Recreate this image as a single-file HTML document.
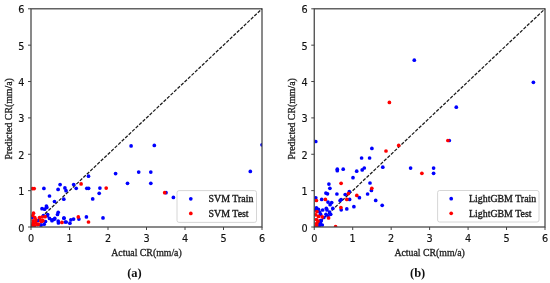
<!DOCTYPE html>
<html><head><meta charset="utf-8"><style>
html,body{margin:0;padding:0;background:#fff;}
body{width:550px;height:283px;overflow:hidden;}
svg{display:block;}
.tk{font-family:"DejaVu Sans", "Liberation Sans", sans-serif;font-size:9.7px;fill:#111;stroke:#111;stroke-width:0.15px;}
.lb{font-family:"Liberation Serif", "DejaVu Serif", serif;font-size:9.8px;fill:#222;stroke:#222;stroke-width:0.3px;}
.lg{font-family:"Liberation Serif", "DejaVu Serif", serif;font-size:9.9px;fill:#1a1a1a;stroke:#1a1a1a;stroke-width:0.35px;}
.pl{font-family:"Liberation Serif", "DejaVu Serif", serif;font-size:12.5px;font-weight:bold;fill:#111;}
</style></head><body>
<svg width="550" height="283" viewBox="0 0 550 283">
<rect width="550" height="283" fill="#fff"/>
<clipPath id="c1"><rect x="31" y="8.8" width="231" height="218.2"/></clipPath>
<line x1="31" y1="227.0" x2="262" y2="8.8" stroke="#1a1a1a" stroke-width="1.25" stroke-dasharray="3.35 1.45"/>
<g clip-path="url(#c1)"><circle cx="154.3" cy="145.4" r="1.85" fill="#0000ff"/><circle cx="138.7" cy="172.1" r="1.85" fill="#0000ff"/><circle cx="150.8" cy="172.1" r="1.85" fill="#0000ff"/><circle cx="150.8" cy="183.3" r="1.85" fill="#0000ff"/><circle cx="166" cy="192.7" r="1.85" fill="#0000ff"/><circle cx="173.4" cy="197.4" r="1.85" fill="#0000ff"/><circle cx="250.3" cy="171.4" r="1.85" fill="#0000ff"/><circle cx="262" cy="144.8" r="1.85" fill="#0000ff"/><circle cx="131.1" cy="145.9" r="1.85" fill="#0000ff"/><circle cx="88.5" cy="176.2" r="1.85" fill="#0000ff"/><circle cx="115.6" cy="173.6" r="1.85" fill="#0000ff"/><circle cx="60.1" cy="184.6" r="1.85" fill="#0000ff"/><circle cx="58.1" cy="189.4" r="1.85" fill="#0000ff"/><circle cx="64.9" cy="187.9" r="1.85" fill="#0000ff"/><circle cx="66" cy="190.7" r="1.85" fill="#0000ff"/><circle cx="73.7" cy="184.5" r="1.85" fill="#0000ff"/><circle cx="76.2" cy="188.3" r="1.85" fill="#0000ff"/><circle cx="86.8" cy="188.3" r="1.85" fill="#0000ff"/><circle cx="88.6" cy="188.3" r="1.85" fill="#0000ff"/><circle cx="63.8" cy="199.2" r="1.85" fill="#0000ff"/><circle cx="92.7" cy="198.9" r="1.85" fill="#0000ff"/><circle cx="54.5" cy="201.5" r="1.85" fill="#0000ff"/><circle cx="127.5" cy="183.3" r="1.85" fill="#0000ff"/><circle cx="99.9" cy="188.1" r="1.85" fill="#0000ff"/><circle cx="99.2" cy="193.3" r="1.85" fill="#0000ff"/><circle cx="103" cy="217.9" r="1.85" fill="#0000ff"/><circle cx="64" cy="218.2" r="1.85" fill="#0000ff"/><circle cx="66.2" cy="222" r="1.85" fill="#0000ff"/><circle cx="69.9" cy="223.2" r="1.85" fill="#0000ff"/><circle cx="70.9" cy="219.8" r="1.85" fill="#0000ff"/><circle cx="73.6" cy="219.1" r="1.85" fill="#0000ff"/><circle cx="78.9" cy="219.1" r="1.85" fill="#0000ff"/><circle cx="86.4" cy="216.9" r="1.85" fill="#0000ff"/><circle cx="43.9" cy="188.4" r="1.85" fill="#0000ff"/><circle cx="49.5" cy="196" r="1.85" fill="#0000ff"/><circle cx="31.9" cy="217.6" r="1.85" fill="#0000ff"/><circle cx="37.6" cy="220.5" r="1.85" fill="#0000ff"/><circle cx="40.8" cy="225" r="1.85" fill="#0000ff"/><circle cx="43.4" cy="215.7" r="1.85" fill="#0000ff"/><circle cx="42" cy="208.7" r="1.85" fill="#0000ff"/><circle cx="46.4" cy="206.1" r="1.85" fill="#0000ff"/><circle cx="46.8" cy="207.4" r="1.85" fill="#0000ff"/><circle cx="44.6" cy="209.2" r="1.85" fill="#0000ff"/><circle cx="47.3" cy="215.8" r="1.85" fill="#0000ff"/><circle cx="47.7" cy="214.5" r="1.85" fill="#0000ff"/><circle cx="49.5" cy="218.4" r="1.85" fill="#0000ff"/><circle cx="52.1" cy="219.8" r="1.85" fill="#0000ff"/><circle cx="54.8" cy="218.4" r="1.85" fill="#0000ff"/><circle cx="45.5" cy="221.5" r="1.85" fill="#0000ff"/><circle cx="44.2" cy="224.2" r="1.85" fill="#0000ff"/><circle cx="41.1" cy="225" r="1.85" fill="#0000ff"/><circle cx="58.2" cy="212.3" r="1.85" fill="#0000ff"/><circle cx="57.5" cy="214.5" r="1.85" fill="#0000ff"/><circle cx="52" cy="220.7" r="1.85" fill="#0000ff"/><circle cx="54.2" cy="219.3" r="1.85" fill="#0000ff"/><circle cx="58.2" cy="221.1" r="1.85" fill="#0000ff"/><circle cx="58.4" cy="222.9" r="1.85" fill="#0000ff"/><circle cx="63.9" cy="218" r="1.85" fill="#0000ff"/><circle cx="65.2" cy="222" r="1.85" fill="#0000ff"/><circle cx="32.6" cy="188.6" r="1.85" fill="#ff0000"/><circle cx="34.2" cy="188.6" r="1.85" fill="#ff0000"/><circle cx="81.1" cy="183.9" r="1.85" fill="#ff0000"/><circle cx="106.2" cy="188.1" r="1.85" fill="#ff0000"/><circle cx="164.7" cy="192.7" r="1.85" fill="#ff0000"/><circle cx="61.9" cy="222.4" r="1.85" fill="#ff0000"/><circle cx="78.3" cy="216.9" r="1.85" fill="#ff0000"/><circle cx="88.5" cy="222" r="1.85" fill="#ff0000"/><circle cx="33.5" cy="213.2" r="1.85" fill="#ff0000"/><circle cx="34.8" cy="217.6" r="1.85" fill="#ff0000"/><circle cx="39.5" cy="217.6" r="1.85" fill="#ff0000"/><circle cx="42" cy="217" r="1.85" fill="#ff0000"/><circle cx="45.1" cy="216.7" r="1.85" fill="#ff0000"/><circle cx="33.2" cy="220.8" r="1.85" fill="#ff0000"/><circle cx="35.7" cy="222.7" r="1.85" fill="#ff0000"/><circle cx="41.5" cy="221.5" r="1.85" fill="#ff0000"/><circle cx="40.6" cy="220.7" r="1.85" fill="#ff0000"/><circle cx="42.9" cy="220.7" r="1.85" fill="#ff0000"/><circle cx="32.5" cy="225" r="1.85" fill="#ff0000"/><circle cx="37.6" cy="224.6" r="1.85" fill="#ff0000"/><circle cx="38.4" cy="224.2" r="1.85" fill="#ff0000"/><circle cx="32.8" cy="215.5" r="1.85" fill="#ff0000"/><circle cx="34.5" cy="225.5" r="1.85" fill="#ff0000"/><circle cx="33" cy="223" r="1.85" fill="#ff0000"/><circle cx="36" cy="219.8" r="1.85" fill="#ff0000"/></g>
<rect x="31" y="8.8" width="231" height="218.2" fill="none" stroke="#444" stroke-width="1.25"/>
<line x1="31.00" y1="227.0" x2="31.00" y2="230.0" stroke="#444" stroke-width="1"/>
<text x="31.00" y="242.3" text-anchor="middle" class="tk">0</text>
<line x1="28" y1="227.00" x2="31" y2="227.00" stroke="#444" stroke-width="1"/>
<text x="24.5" y="231.50" text-anchor="end" class="tk">0</text>
<line x1="69.50" y1="227.0" x2="69.50" y2="230.0" stroke="#444" stroke-width="1"/>
<text x="69.50" y="242.3" text-anchor="middle" class="tk">1</text>
<line x1="28" y1="190.63" x2="31" y2="190.63" stroke="#444" stroke-width="1"/>
<text x="24.5" y="195.13" text-anchor="end" class="tk">1</text>
<line x1="108.00" y1="227.0" x2="108.00" y2="230.0" stroke="#444" stroke-width="1"/>
<text x="108.00" y="242.3" text-anchor="middle" class="tk">2</text>
<line x1="28" y1="154.27" x2="31" y2="154.27" stroke="#444" stroke-width="1"/>
<text x="24.5" y="158.77" text-anchor="end" class="tk">2</text>
<line x1="146.50" y1="227.0" x2="146.50" y2="230.0" stroke="#444" stroke-width="1"/>
<text x="146.50" y="242.3" text-anchor="middle" class="tk">3</text>
<line x1="28" y1="117.90" x2="31" y2="117.90" stroke="#444" stroke-width="1"/>
<text x="24.5" y="122.40" text-anchor="end" class="tk">3</text>
<line x1="185.00" y1="227.0" x2="185.00" y2="230.0" stroke="#444" stroke-width="1"/>
<text x="185.00" y="242.3" text-anchor="middle" class="tk">4</text>
<line x1="28" y1="81.53" x2="31" y2="81.53" stroke="#444" stroke-width="1"/>
<text x="24.5" y="86.03" text-anchor="end" class="tk">4</text>
<line x1="223.50" y1="227.0" x2="223.50" y2="230.0" stroke="#444" stroke-width="1"/>
<text x="223.50" y="242.3" text-anchor="middle" class="tk">5</text>
<line x1="28" y1="45.17" x2="31" y2="45.17" stroke="#444" stroke-width="1"/>
<text x="24.5" y="49.67" text-anchor="end" class="tk">5</text>
<line x1="262.00" y1="227.0" x2="262.00" y2="230.0" stroke="#444" stroke-width="1"/>
<text x="262.00" y="242.3" text-anchor="middle" class="tk">6</text>
<line x1="28" y1="8.80" x2="31" y2="8.80" stroke="#444" stroke-width="1"/>
<text x="24.5" y="13.30" text-anchor="end" class="tk">6</text>
<text x="146.50" y="255.6" text-anchor="middle" class="lb">Actual CR(mm/a)</text>
<text transform="translate(11.8,118.90) rotate(-90)" text-anchor="middle" class="lb">Predicted CR(mm/a)</text>
<rect x="177" y="190.6" width="79.5" height="31.80000000000001" rx="2" fill="#fff" fill-opacity="0.85" stroke="#ccc" stroke-width="0.8"/>
<circle cx="190.8" cy="198.79999999999998" r="1.85" fill="#0000ff"/>
<circle cx="190.8" cy="213.4" r="1.85" fill="#ff0000"/>
<text x="208.60000000000002" y="202.2" class="lg">SVM Train</text>
<text x="208.60000000000002" y="216.6" class="lg">SVM Test</text>
<text x="134.50" y="276.8" text-anchor="middle" class="pl">(a)</text>
<clipPath id="c2"><rect x="314.25" y="8.8" width="230.75" height="218.2"/></clipPath>
<line x1="314.25" y1="227.0" x2="545" y2="8.8" stroke="#1a1a1a" stroke-width="1.25" stroke-dasharray="3.35 1.45"/>
<g clip-path="url(#c2)"><circle cx="414.3" cy="60.2" r="1.85" fill="#0000ff"/><circle cx="533.4" cy="82.3" r="1.85" fill="#0000ff"/><circle cx="456.3" cy="107.2" r="1.85" fill="#0000ff"/><circle cx="449.3" cy="140.5" r="1.85" fill="#0000ff"/><circle cx="410.6" cy="168.1" r="1.85" fill="#0000ff"/><circle cx="433.6" cy="168.1" r="1.85" fill="#0000ff"/><circle cx="433.6" cy="173.3" r="1.85" fill="#0000ff"/><circle cx="371.9" cy="148.4" r="1.85" fill="#0000ff"/><circle cx="361.6" cy="158" r="1.85" fill="#0000ff"/><circle cx="369.6" cy="158" r="1.85" fill="#0000ff"/><circle cx="382.8" cy="167.2" r="1.85" fill="#0000ff"/><circle cx="364.3" cy="168" r="1.85" fill="#0000ff"/><circle cx="315.8" cy="141.5" r="1.85" fill="#0000ff"/><circle cx="337.3" cy="169.2" r="1.85" fill="#0000ff"/><circle cx="337.3" cy="170.7" r="1.85" fill="#0000ff"/><circle cx="343.2" cy="169.2" r="1.85" fill="#0000ff"/><circle cx="356.7" cy="171.2" r="1.85" fill="#0000ff"/><circle cx="362.2" cy="169.9" r="1.85" fill="#0000ff"/><circle cx="353" cy="177.7" r="1.85" fill="#0000ff"/><circle cx="328.9" cy="184.1" r="1.85" fill="#0000ff"/><circle cx="329.9" cy="188.3" r="1.85" fill="#0000ff"/><circle cx="370" cy="183" r="1.85" fill="#0000ff"/><circle cx="371.4" cy="190.4" r="1.85" fill="#0000ff"/><circle cx="367.6" cy="194" r="1.85" fill="#0000ff"/><circle cx="375.7" cy="200.4" r="1.85" fill="#0000ff"/><circle cx="382.2" cy="205.3" r="1.85" fill="#0000ff"/><circle cx="336.9" cy="194" r="1.85" fill="#0000ff"/><circle cx="345.2" cy="194.5" r="1.85" fill="#0000ff"/><circle cx="349.3" cy="191.7" r="1.85" fill="#0000ff"/><circle cx="359.4" cy="197.7" r="1.85" fill="#0000ff"/><circle cx="341.1" cy="199.5" r="1.85" fill="#0000ff"/><circle cx="340.1" cy="200.5" r="1.85" fill="#0000ff"/><circle cx="349.6" cy="199.4" r="1.85" fill="#0000ff"/><circle cx="341.2" cy="209.8" r="1.85" fill="#0000ff"/><circle cx="346.8" cy="208.9" r="1.85" fill="#0000ff"/><circle cx="353.9" cy="206.7" r="1.85" fill="#0000ff"/><circle cx="325.9" cy="193.1" r="1.85" fill="#0000ff"/><circle cx="327.5" cy="193.8" r="1.85" fill="#0000ff"/><circle cx="315.8" cy="197.8" r="1.85" fill="#0000ff"/><circle cx="321.7" cy="199.4" r="1.85" fill="#0000ff"/><circle cx="328" cy="202.1" r="1.85" fill="#0000ff"/><circle cx="331.7" cy="202.6" r="1.85" fill="#0000ff"/><circle cx="330.1" cy="204.7" r="1.85" fill="#0000ff"/><circle cx="326.3" cy="208.3" r="1.85" fill="#0000ff"/><circle cx="332.8" cy="208.4" r="1.85" fill="#0000ff"/><circle cx="316.4" cy="207.9" r="1.85" fill="#0000ff"/><circle cx="322.7" cy="210" r="1.85" fill="#0000ff"/><circle cx="327" cy="210" r="1.85" fill="#0000ff"/><circle cx="329.6" cy="212.1" r="1.85" fill="#0000ff"/><circle cx="320.6" cy="214.3" r="1.85" fill="#0000ff"/><circle cx="326" cy="214.3" r="1.85" fill="#0000ff"/><circle cx="330.7" cy="214.3" r="1.85" fill="#0000ff"/><circle cx="323.8" cy="217.5" r="1.85" fill="#0000ff"/><circle cx="328" cy="215.9" r="1.85" fill="#0000ff"/><circle cx="320.6" cy="220.6" r="1.85" fill="#0000ff"/><circle cx="315.3" cy="210" r="1.85" fill="#0000ff"/><circle cx="320.4" cy="223.1" r="1.85" fill="#0000ff"/><circle cx="322.3" cy="225" r="1.85" fill="#0000ff"/><circle cx="319.4" cy="225.5" r="1.85" fill="#0000ff"/><circle cx="321.3" cy="220.7" r="1.85" fill="#0000ff"/><circle cx="319.8" cy="212" r="1.85" fill="#0000ff"/><circle cx="318.4" cy="209.3" r="1.85" fill="#0000ff"/><circle cx="389.4" cy="102.4" r="1.85" fill="#ff0000"/><circle cx="447.9" cy="140.5" r="1.85" fill="#ff0000"/><circle cx="421.9" cy="173.3" r="1.85" fill="#ff0000"/><circle cx="386" cy="151" r="1.85" fill="#ff0000"/><circle cx="398.7" cy="145.4" r="1.85" fill="#ff0000"/><circle cx="341.1" cy="183.3" r="1.85" fill="#ff0000"/><circle cx="348.4" cy="193.6" r="1.85" fill="#ff0000"/><circle cx="356.8" cy="195.4" r="1.85" fill="#ff0000"/><circle cx="346.8" cy="199.4" r="1.85" fill="#ff0000"/><circle cx="371.8" cy="188.3" r="1.85" fill="#ff0000"/><circle cx="340.9" cy="207.6" r="1.85" fill="#ff0000"/><circle cx="316.4" cy="200.5" r="1.85" fill="#ff0000"/><circle cx="325.4" cy="199.4" r="1.85" fill="#ff0000"/><circle cx="316.9" cy="211.6" r="1.85" fill="#ff0000"/><circle cx="315.8" cy="214.8" r="1.85" fill="#ff0000"/><circle cx="318.5" cy="216.4" r="1.85" fill="#ff0000"/><circle cx="322.2" cy="216.9" r="1.85" fill="#ff0000"/><circle cx="328.6" cy="218" r="1.85" fill="#ff0000"/><circle cx="316.4" cy="219.6" r="1.85" fill="#ff0000"/><circle cx="318" cy="221.2" r="1.85" fill="#ff0000"/><circle cx="316.6" cy="223.5" r="1.85" fill="#ff0000"/><circle cx="316.6" cy="225.5" r="1.85" fill="#ff0000"/><circle cx="335.6" cy="226.7" r="1.85" fill="#ff0000"/></g>
<rect x="314.25" y="8.8" width="230.75" height="218.2" fill="none" stroke="#444" stroke-width="1.25"/>
<line x1="314.25" y1="227.0" x2="314.25" y2="230.0" stroke="#444" stroke-width="1"/>
<text x="314.25" y="242.3" text-anchor="middle" class="tk">0</text>
<line x1="311.25" y1="227.00" x2="314.25" y2="227.00" stroke="#444" stroke-width="1"/>
<text x="307.75" y="231.50" text-anchor="end" class="tk">0</text>
<line x1="352.71" y1="227.0" x2="352.71" y2="230.0" stroke="#444" stroke-width="1"/>
<text x="352.71" y="242.3" text-anchor="middle" class="tk">1</text>
<line x1="311.25" y1="190.63" x2="314.25" y2="190.63" stroke="#444" stroke-width="1"/>
<text x="307.75" y="195.13" text-anchor="end" class="tk">1</text>
<line x1="391.17" y1="227.0" x2="391.17" y2="230.0" stroke="#444" stroke-width="1"/>
<text x="391.17" y="242.3" text-anchor="middle" class="tk">2</text>
<line x1="311.25" y1="154.27" x2="314.25" y2="154.27" stroke="#444" stroke-width="1"/>
<text x="307.75" y="158.77" text-anchor="end" class="tk">2</text>
<line x1="429.62" y1="227.0" x2="429.62" y2="230.0" stroke="#444" stroke-width="1"/>
<text x="429.62" y="242.3" text-anchor="middle" class="tk">3</text>
<line x1="311.25" y1="117.90" x2="314.25" y2="117.90" stroke="#444" stroke-width="1"/>
<text x="307.75" y="122.40" text-anchor="end" class="tk">3</text>
<line x1="468.08" y1="227.0" x2="468.08" y2="230.0" stroke="#444" stroke-width="1"/>
<text x="468.08" y="242.3" text-anchor="middle" class="tk">4</text>
<line x1="311.25" y1="81.53" x2="314.25" y2="81.53" stroke="#444" stroke-width="1"/>
<text x="307.75" y="86.03" text-anchor="end" class="tk">4</text>
<line x1="506.54" y1="227.0" x2="506.54" y2="230.0" stroke="#444" stroke-width="1"/>
<text x="506.54" y="242.3" text-anchor="middle" class="tk">5</text>
<line x1="311.25" y1="45.17" x2="314.25" y2="45.17" stroke="#444" stroke-width="1"/>
<text x="307.75" y="49.67" text-anchor="end" class="tk">5</text>
<line x1="545.00" y1="227.0" x2="545.00" y2="230.0" stroke="#444" stroke-width="1"/>
<text x="545.00" y="242.3" text-anchor="middle" class="tk">6</text>
<line x1="311.25" y1="8.80" x2="314.25" y2="8.80" stroke="#444" stroke-width="1"/>
<text x="307.75" y="13.30" text-anchor="end" class="tk">6</text>
<text x="429.62" y="255.6" text-anchor="middle" class="lb">Actual CR(mm/a)</text>
<text transform="translate(295.05,118.90) rotate(-90)" text-anchor="middle" class="lb">Predicted CR(mm/a)</text>
<rect x="437.6" y="190.5" width="101.39999999999998" height="31.5" rx="2" fill="#fff" fill-opacity="0.85" stroke="#ccc" stroke-width="0.8"/>
<circle cx="451.2" cy="198.7" r="1.85" fill="#0000ff"/>
<circle cx="451.2" cy="213.3" r="1.85" fill="#ff0000"/>
<text x="469.0" y="202.1" class="lg">LightGBM Train</text>
<text x="469.0" y="216.5" class="lg">LightGBM Test</text>
<text x="417.62" y="276.8" text-anchor="middle" class="pl">(b)</text>
</svg>
</body></html>
